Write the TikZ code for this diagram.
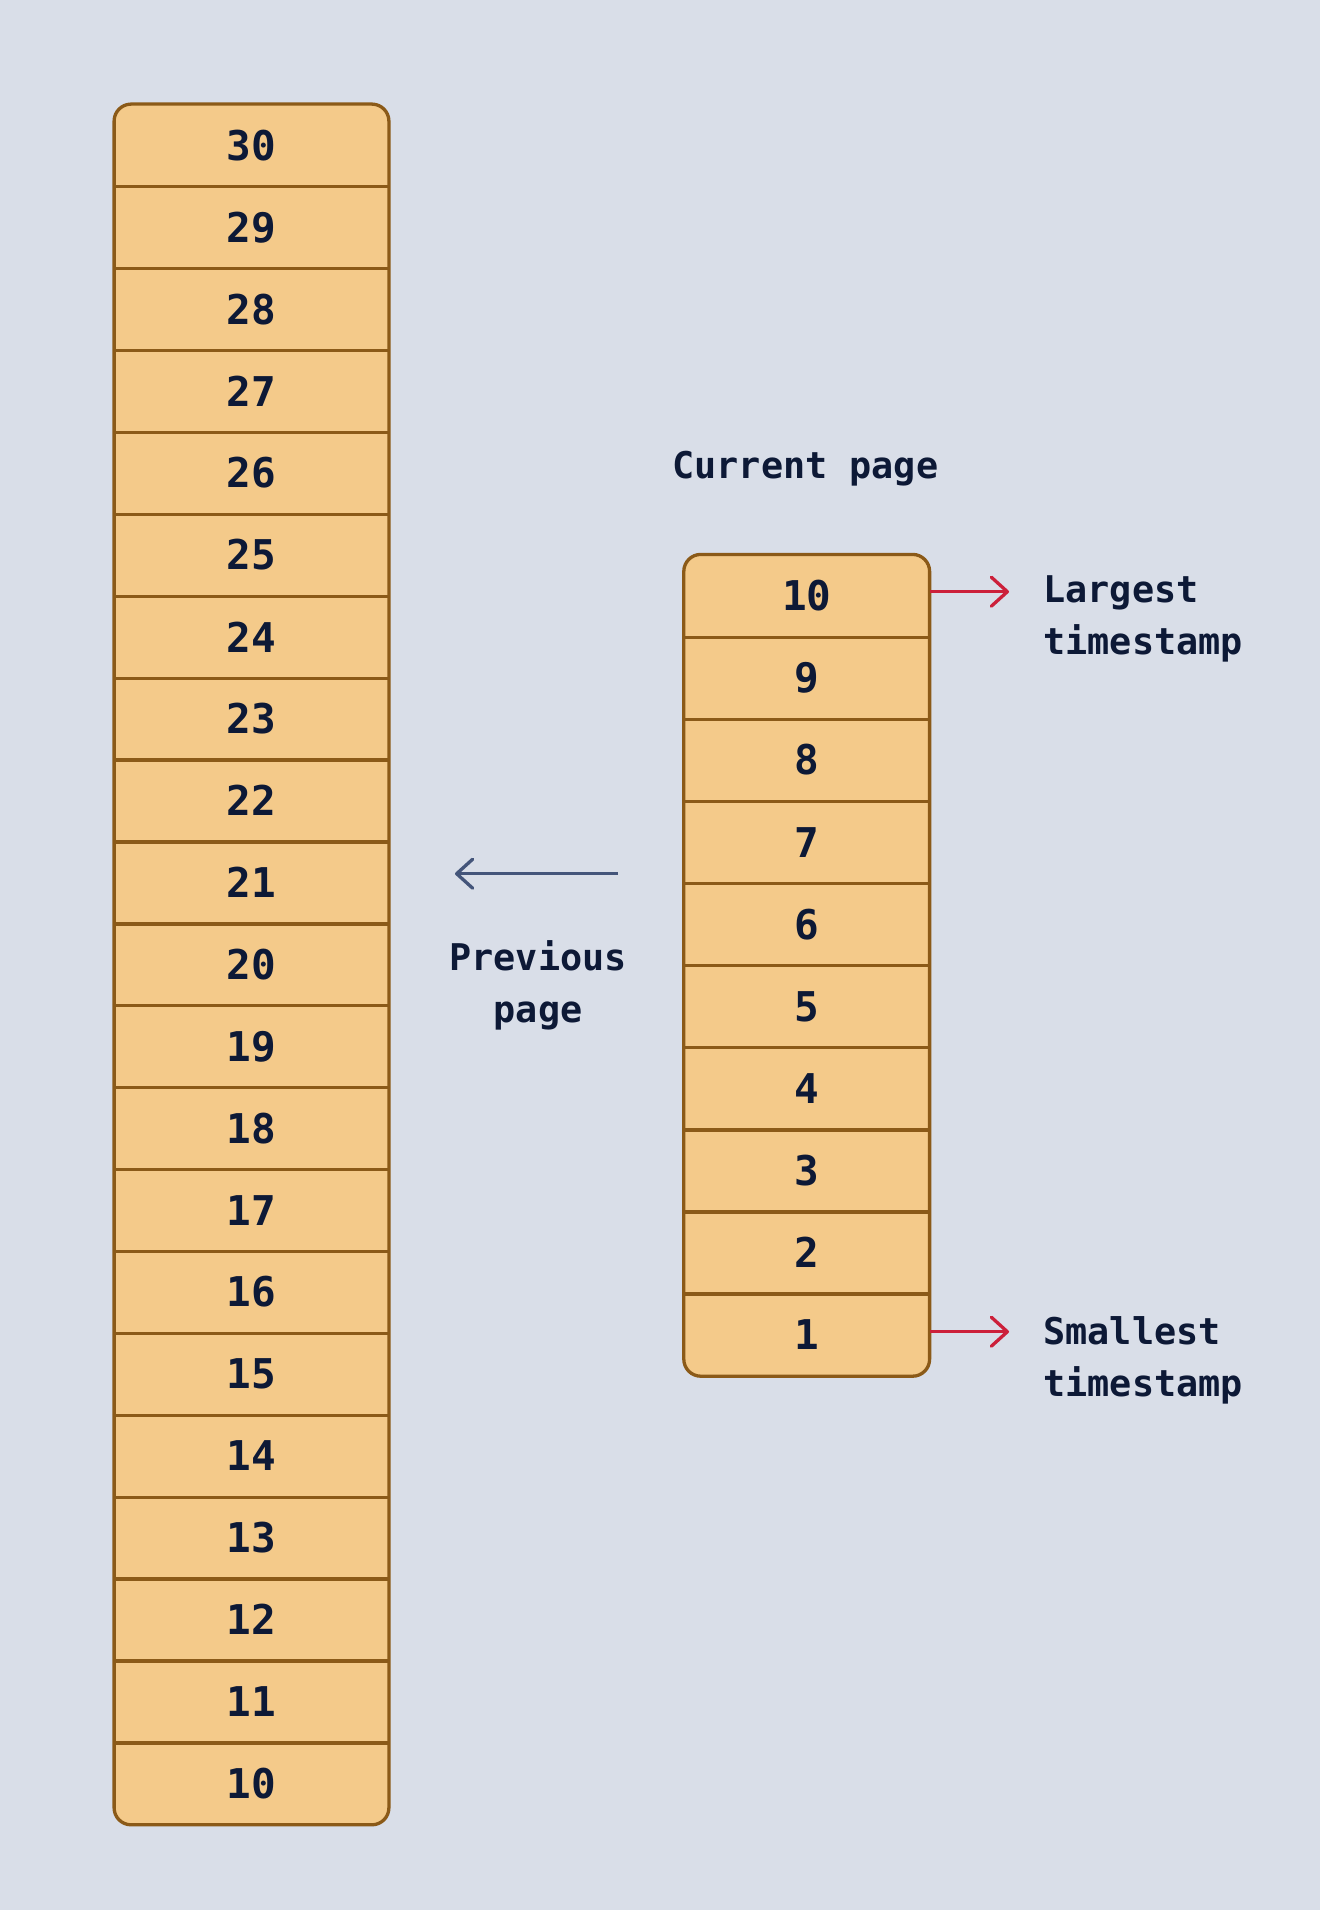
\documentclass[tikz,border=0pt]{standalone}
\usepackage{fontspec}
\newfontfamily\monobf{DejaVu Sans Mono Bold}
\usetikzlibrary{arrows.meta,backgrounds}
\definecolor{bgc}{RGB}{217,222,232}
\definecolor{cellfill}{RGB}{244,202,138}
\definecolor{celldraw}{RGB}{139,90,24}
\definecolor{txt}{RGB}{13,25,54}
\definecolor{redarr}{RGB}{204,32,58}
\definecolor{bluearr}{RGB}{68,85,122}
\tikzset{
  cellL/.style={minimum width=274*0.5pt, minimum height=81.9*0.5pt, inner sep=0pt, text=txt, font=\monobf\fontsize{20.5}{21}\selectfont},
  cellR/.style={minimum width=245*0.5pt, minimum height=82.1*0.5pt, inner sep=0pt, text=txt, font=\monobf\fontsize{20.5}{21}\selectfont},
  colbox/.style={fill=cellfill, draw=celldraw, line width=1.65pt, rounded corners=8.5pt},
  divider/.style={draw=celldraw, line width=1.65pt},
  lbl/.style={text=txt, inner sep=0pt, font=\monobf\fontsize{18.4}{26}\selectfont},
  redarrow/.style={draw=redarr, line width=1.65pt, -{Straight Barb[length=8pt,width=14.5pt,round]}},
  bluearrow/.style={draw=bluearr, line width=1.65pt, -{Straight Barb[length=8pt,width=14.5pt,round]}},
}
\begin{document}
\begin{tikzpicture}[x=0.5pt, y=-0.5pt]
\useasboundingbox (0,0) rectangle (1320,1910);
% left column cells
\foreach \v [count=\i from 0] in {30,29,28,27,26,25,24,23,22,21,20,19,18,17,16,15,14,13,12,11,10} {
  \node[cellL] (L\v) at (251.5, 104.5+81.9*\i+40.95) {\v};
}
% right column cells
\foreach \v [count=\i from 0] in {10,9,8,7,6,5,4,3,2,1} {
  \node[cellR] (R\v) at (806.7, 554.8+82.1*\i+41.05) {\v};
}
\begin{scope}[on background layer]
  \fill[bgc] (0,0) rectangle (1320,1910);
  \draw[colbox] (L30.north west) rectangle (L10.south east);
  \draw[colbox] (R10.north west) rectangle (R1.south east);
  \foreach \v in {30,29,28,27,26,25,24,23,22,21,20,19,18,17,16,15,14,13,12,11} {
    \draw[divider] (L\v.south west) -- (L\v.south east);
  }
  \foreach \v in {10,9,8,7,6,5,4,3,2} {
    \draw[divider] (R\v.south west) -- (R\v.south east);
  }
\end{scope}
% labels
\node[lbl, anchor=base west] (cur) at (672, 478.3) {Current page};
\node[lbl, anchor=base west, align=left] (largest) at (1043, 654) {Largest\\timestamp};
\node[lbl, anchor=base west, align=left] (smallest) at (1043, 1396) {Smallest\\timestamp};
\node[lbl, anchor=base, align=center] (prev) at (538, 1022.7) {Previous\\page};
% arrows
\coordinate (largeEnd) at (1009, 591.7);
\coordinate (smallEnd) at (1009, 1331.7);
\coordinate (prevStart) at (618, 873.7);
\coordinate (prevEnd) at (455, 873.7);
\draw[redarrow] (R10.east |- largeEnd) -- (largeEnd);
\draw[redarrow] (R1.east |- smallEnd) -- (smallEnd);
\draw[bluearrow] (prevStart) -- (prevEnd);
\end{tikzpicture}
\end{document}
